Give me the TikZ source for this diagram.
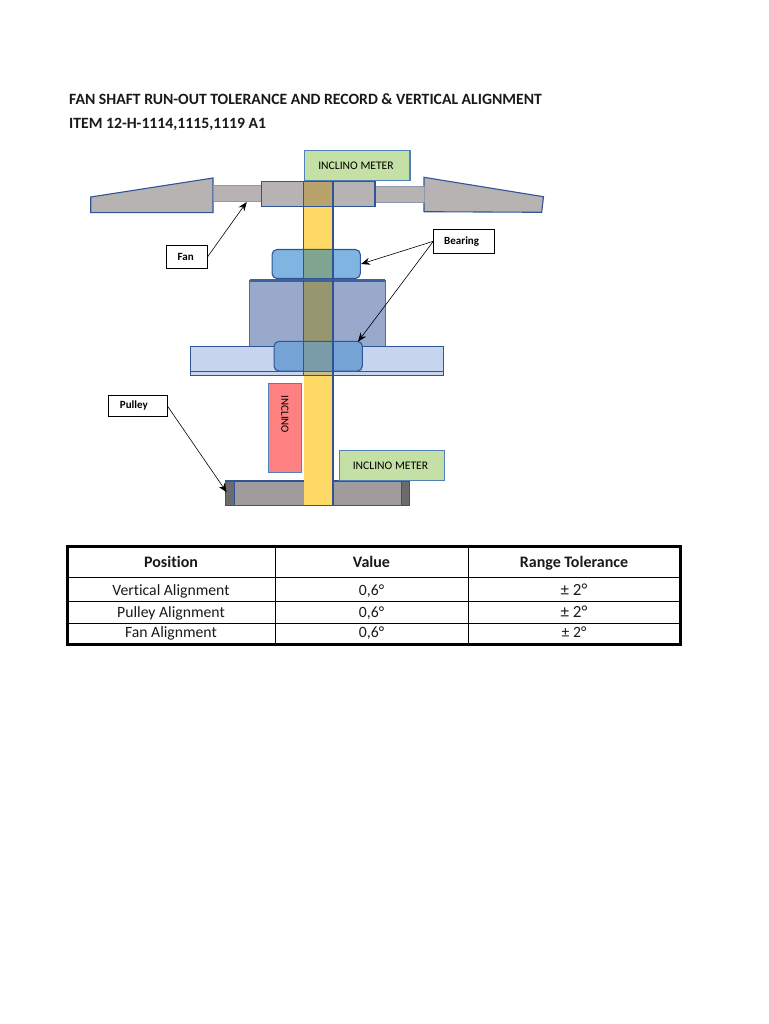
\documentclass[tikz,border=0pt]{standalone}
\usepackage{fontspec}
\setmainfont[Ligatures=NoCommon]{Carlito}
\definecolor{edge}{HTML}{2F5597}
\definecolor{gold}{HTML}{FFD966}
\definecolor{bladegray}{HTML}{B7B3B3}
\definecolor{incgreen}{HTML}{C5E0A5}
\definecolor{bearblue}{HTML}{7FB5E0}
\definecolor{housing}{HTML}{98A9CC}
\definecolor{plate}{HTML}{C6D4EE}
\definecolor{bear2}{HTML}{76A3D5}
\definecolor{pulleygray}{HTML}{A09C9C}
\definecolor{pulleyend}{HTML}{6B6B6B}
\definecolor{incred}{HTML}{FF8080}
\definecolor{ovhub}{HTML}{B9A26C}
\definecolor{ovbear}{HTML}{7FA590}
\definecolor{ovhouse}{HTML}{96966F}
\definecolor{ovlow}{HTML}{7A9BA8}
\definecolor{ovplate}{HTML}{C9BD8D}
\definecolor{lightedge}{HTML}{4F81BD}
\newcommand{\pxbox}[7][]{%
  \pgfmathsetmacro{\pw}{#5-#3}\pgfmathsetmacro{\ph}{#6-#4}%
  \pgfmathsetmacro{\px}{(#5+#3)/2}\pgfmathsetmacro{\py}{(#6+#4)/2}%
  \node[partbox,minimum width=\pw pt,minimum height=\ph pt,#2] (#1) at (\px,\py) {#7};}
\tikzset{
  x=1pt,y=-1pt,
  partbox/.style={draw=edge,line width=1.1pt,inner sep=0pt,outer sep=0pt,rectangle},
  callout/.style={draw=black,line width=1pt,fill=white,inner sep=0pt,outer sep=0pt,font=\bfseries\fontsize{11}{13}\selectfont,text=black},
  leader/.style={draw=black,line width=.6pt,-{Stealth[length=9pt,width=7pt]}},
  title/.style={anchor=base west,inner sep=0pt,font=\bfseries\fontsize{15.7}{18}\selectfont,text=black!90},
  cell/.style={anchor=base,inner sep=0pt,font=\fontsize{15.7}{18}\selectfont,text=black!90},
  headcell/.style={anchor=base,inner sep=0pt,font=\bfseries\fontsize{16}{18}\selectfont,text=black!90},
  inclabel/.style={font=\fontsize{11.6}{13}\selectfont,text=black},
}
\usetikzlibrary{arrows.meta}
\begin{document}
\begin{tikzpicture}
\useasboundingbox (0,0) rectangle (768,1024);
\node[title] (t1) at (69,105) {FAN SHAFT RUN-OUT TOLERANCE AND RECORD \& VERTICAL ALIGNMENT};
\node[title] (t2) at (69,128.5) {ITEM 12-H-1114,1115,1119 A1};
% shaft
\pxbox[shaft]{fill=gold,draw=none}{303.5}{181}{333}{506}{}
% fan
\draw[edge,line width=1.1pt,fill=bladegray] (90.7,197) -- (213,178) -- (213,212.7) -- (90.7,212.7) -- cycle;
\draw[edge,line width=1.1pt,fill=bladegray] (424,177.3) -- (543.5,196.7) -- (541.7,212.3) -- (424,211.7) -- cycle;
\pxbox[armL]{fill=bladegray,draw=bladegray!70!edge,line width=.6pt}{213}{185}{262}{201}{}
\pxbox[armR]{fill=bladegray,draw=bladegray!70!edge,line width=.6pt}{375}{186}{424}{202}{}
\pxbox[hub]{fill=bladegray}{261.7}{181.3}{375}{206.7}{}
\pxbox[hubshaft]{fill=ovhub,draw=none}{303.5}{181.8}{333}{206}{}
\pxbox[incTop]{fill=incgreen,draw=lightedge}{304.7}{150.7}{410}{180.7}{}
\node[inclabel] (incTopL) at (356,166) {INCLINO METER};
% housing and upper bearing
\pxbox[housing]{fill=housing,draw=lightedge!60!edge,line width=.9pt}{249.7}{280}{385}{346.3}{}
\pxbox[housingTop]{fill=edge!85!housing,draw=none}{249.7}{278.7}{385}{282}{}
\node[partbox,rounded corners=5pt,fill=bearblue,minimum width=88.3pt,minimum height=29pt] (bearTop) at (316.2,264) {};
\fill[fill=ovhouse] (303.5,282) rectangle (333,346.3);
\fill[fill=edge!85!housing] (303.5,278.7) rectangle (333,282);
\fill[fill=ovbear] (303.5,250) rectangle (333,278.2);
% plate
\pxbox[plate]{fill=plate}{190.3}{346.7}{443.3}{375.3}{}
\draw[edge,line width=1.3pt] (190.3,371.5) -- (443.3,371.5);
\node[partbox,rounded corners=5pt,fill=bear2,minimum width=88.3pt,minimum height=29.7pt] (bearLow) at (318.2,356.2) {};
\fill[fill=ovlow] (303.5,342) rectangle (333,370.5);
\fill[fill=ovplate] (303.5,372.2) rectangle (333,375);
\draw[edge,line width=.6pt] (303.5,181) -- (303.5,375);
% pulley
\pxbox[pulley]{fill=pulleygray}{225.7}{481}{409.3}{505.3}{}
\pxbox[pulL]{fill=pulleyend}{225.7}{481}{234.3}{505.3}{}
\pxbox[pulR]{fill=pulleyend}{401.3}{481}{409.3}{505.3}{}
\pxbox[shaftLow]{fill=gold,draw=none}{303.5}{375.8}{333}{505}{}
\draw[edge,line width=1.3pt] (333,181) -- (333,506);
\draw[edge,line width=1pt] (303.5,505.5) -- (333,505.5);
% inclinometers
\pxbox[incRed]{fill=incred,draw=lightedge,line width=.9pt}{268}{383}{301.7}{472.3}{}
\node[inclabel,rotate=-90,font=\fontsize{11}{13}\selectfont] (incRedL) at (285,414.5) {INCLINO};
\pxbox[incLow]{fill=incgreen,draw=lightedge,line width=.9pt}{339.3}{450.7}{444.7}{480.3}{}
\node[inclabel] (incLowL) at (390.5,466) {INCLINO METER};
% callouts
\pxbox[fan]{callout}{166.7}{245}{207.7}{268.3}{Fan\rule{3pt}{0pt}}
\pxbox[bearing]{callout}{433.3}{229.3}{494}{253.3}{Bearing\rule{4pt}{0pt}}
\pxbox[pulleyL]{callout}{108.3}{395.3}{167.3}{416.3}{Pulley\rule{8pt}{0pt}}
\coordinate (fanTip) at (246.7,202);
\coordinate (bearTipA) at (361,264);
\coordinate (bearTipB) at (358,341.7);
\coordinate (pulTip) at (226.7,492.3);
\draw[leader] (fan.east) -- (fanTip);
\draw[leader] (bearing.west) -- (bearTipA);
\draw[leader] (bearing.west) -- (bearTipB);
\draw[leader] (pulleyL.east) -- (pulTip);
% table
\draw[black,line width=3pt] (67.5,546.5) rectangle (680,644);
\draw[black,line width=1.5pt] (67.5,577.5) -- (680,577.5);
\draw[black,line width=1pt] (67.5,601) -- (680,601) (67.5,623.5) -- (680,623.5);
\draw[black,line width=1pt] (275,546.5) -- (275,644) (468,546.5) -- (468,644);
\node[headcell] (h1) at (171,567) {Position};
\node[headcell] (h2) at (371.5,567) {Value};
\node[headcell] (h3) at (574,567) {Range Tolerance};
\node[cell] (a1) at (171,595) {Vertical Alignment};
\node[cell] (a2) at (371.5,595) {0,6°};
\node[cell,font=\fontsize{17}{19}\selectfont] (a3) at (574,595) {± 2°};
\node[cell] (b1) at (171,617) {Pulley Alignment};
\node[cell] (b2) at (371.5,617) {0,6°};
\node[cell,font=\fontsize{17}{19}\selectfont] (b3) at (574,617) {± 2°};
\node[cell] (c1) at (171,637) {Fan Alignment};
\node[cell] (c2) at (371.5,637) {0,6°};
\node[cell] (c3) at (574,637) {± 2°};
\end{tikzpicture}
\end{document}
